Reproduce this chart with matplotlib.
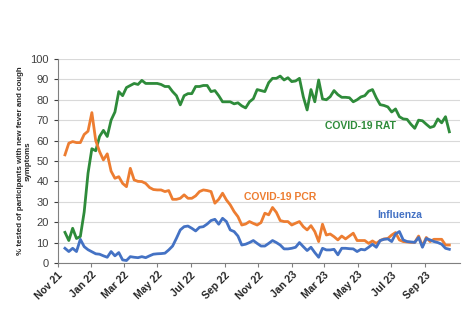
import pandas as pd
import matplotlib
matplotlib.use("Agg")
import matplotlib.pyplot as plt

# ---------------------------------------------------------------
# Data (weekly)
# ---------------------------------------------------------------

START = "2021-11-14"

rat = [15, 11, 17, 12, 13, 25, 44, 56, 55, 62,
       65, 62, 70, 74, 84, 82, 86, 87, 88, 87.5,
       89.5, 88, 88, 88, 88, 87.5, 86.5, 86.5, 84, 82,
       77.5, 82, 83, 83, 86.5, 86.5, 87, 87, 84, 84.5,
       82, 79, 79, 79, 78, 78.5, 77, 76, 79, 80.5,
       85, 84.5, 84, 88.4, 90.5, 90.5, 91.6, 89.7, 90.8, 88.9,
       89.2, 90.5, 81.5, 75, 85, 79, 89.7, 80.4, 80, 81.5,
       84.5, 82.5, 81.2, 81.2, 81, 79, 80, 81.4, 82, 84.2,
       85, 80.9, 77.6, 77.2, 76.5, 74, 75.5, 71.7, 70.6, 70.4,
       68, 66, 70, 69.7, 68, 66.4, 67, 70.6, 68.7, 71.7,
       64.3]

pcr = [53, 58.7, 59.5, 59, 59, 63, 64.6, 73.7, 60, 54.6,
       50.5, 53.5, 45, 41.5, 42.3, 39, 37.4, 46.4, 40.7, 40,
       39.9, 39, 37, 36, 35.8, 35.8, 35, 35.5, 31.2, 31.2,
       31.7, 33.4, 31.7, 31.7, 32.9, 35, 35.8, 35.5, 35, 29.3,
       31.2, 34.2, 30.9, 28.5, 25.2, 22.7, 18.6, 19.1, 20.3, 19.4,
       18.6, 19.8, 24.4, 23.6, 27.2, 24.8, 20.8, 20.3, 20.3, 18.6,
       19.5, 20.3, 17.8, 16.2, 18.3, 15.4, 10.5, 19, 13.7, 14.2,
       12.9, 11.3, 13.2, 11.8, 13.2, 14.6, 11, 11, 11, 9.6,
       10.8, 9.6, 11, 11.8, 12, 13.7, 14.9, 11.3, 10.5, 10.3,
       10.1, 10.1, 13.2, 8.3, 12.5, 10.5, 11.6, 11.6, 11.6, 8.8,
       8.8]

flu = [7.2, 5.6, 7.2, 5.6, 11.6, 8, 6.5, 5.5, 4.5, 4.3,
       3.5, 2.8, 5.6, 3.5, 5.1, 1.5, 1.2, 3.1, 2.8, 2.6,
       3.1, 2.6, 3.5, 4.3, 4.5, 4.6, 4.8, 6.4, 8.3, 12.1,
       16.2, 17.8, 18.1, 17, 15.7, 17.5, 17.8, 19.1, 20.8, 21.4,
       19, 21.9, 20.3, 16.2, 15.4, 13.2, 8.8, 9.2, 10, 11,
       9.6, 8.3, 8.3, 9.6, 11, 10, 8.8, 6.9, 6.9, 7.2,
       7.7, 10, 8, 6.1, 7.7, 5.1, 2.8, 7.2, 6.4, 6.4,
       6.7, 4, 7.2, 7.2, 7, 6.9, 5.6, 6.7, 6.4, 7.7,
       9.2, 7.7, 11, 11.6, 11.8, 10.5, 14.2, 15.4, 11.3, 10.5,
       10.3, 10.1, 12.5, 7.7, 12, 11.3, 10.5, 10, 9.2, 7.2,
       6.7]

series_names = ["COVID-19 RAT", "COVID-19 PCR", "Influenza"]
series_colors = ["#2e8b3a", "#ed7d31", "#4472c4"]

tick_dates = pd.date_range("2021-11-01", "2023-09-01", freq="2MS")
tick_labels = [d.strftime("%b %y") for d in tick_dates]

# where each series name is written (date, value)
label_dates = ["2023-05-07", "2022-12-10", "2023-07-16"]
label_values = [67, 32.5, 23.5]

# ---------------------------------------------------------------
# Plot
# ---------------------------------------------------------------

plt.rcParams["font.family"] = ["Liberation Sans", "DejaVu Sans"]

dates = pd.date_range(START, periods=len(rat), freq="7D")

fig = plt.figure(figsize=(4.74, 3.35), dpi=100)
ax = fig.add_axes([0.122, 0.215, 0.848, 0.609])

for vals, col in zip([rat, pcr, flu], series_colors):
    ax.plot(dates, vals, color=col, lw=2.0, solid_joinstyle="round", zorder=3)

ax.set_ylim(0, 100)
ax.set_yticks(range(0, 101, 10))
ax.set_xlim(pd.Timestamp("2021-11-01"), pd.Timestamp("2023-11-03"))
ax.set_xticks(tick_dates)
ax.set_xticklabels(tick_labels, rotation=45, ha="right", rotation_mode="anchor",
                   fontsize=7.5, fontweight="bold", color="#262626")
ax.tick_params(axis="y", labelsize=8, colors="#404040", length=3, width=0.8)
ax.tick_params(axis="x", length=3, width=0.8, color="#808080", pad=2)

ax.grid(axis="y", color="#d9d9d9", lw=0.8)
ax.set_axisbelow(True)
for s in ["top", "right"]:
    ax.spines[s].set_visible(False)
ax.spines["left"].set_color("#808080")
ax.spines["bottom"].set_color("#808080")

ax.set_ylabel("% tested of participants with new fever and cough\nsymptoms",
              fontsize=5.7, fontweight="bold", color="#262626", labelpad=-1,
              linespacing=1.1)

# series labels
for name, col, d, v in zip(series_names, series_colors, label_dates, label_values):
    ax.text(pd.Timestamp(d), v, name, color=col, fontsize=7.5, fontweight="bold",
            ha="center", va="center")

fig.savefig("out.png", dpi=100)
